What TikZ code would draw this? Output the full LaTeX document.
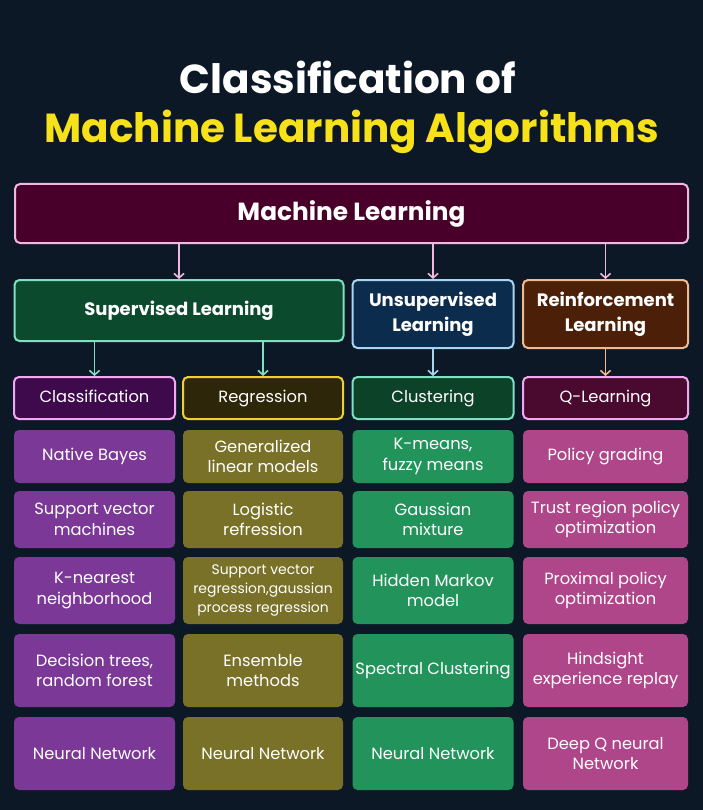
\documentclass[tikz,border=0pt]{standalone}
\usepackage{fontspec}
\setmainfont{Poppins}
\usetikzlibrary{arrows.meta}
\definecolor{bg}{HTML}{0D1826}
\definecolor{ttlyellow}{HTML}{F7E21A}
\definecolor{mlfill}{HTML}{48002A}
\definecolor{pinkline}{HTML}{F0B8E0}
\definecolor{supfill}{HTML}{0B4A2C}
\definecolor{mint}{HTML}{80E0C4}
\definecolor{unsfill}{HTML}{0B2C4C}
\definecolor{lblue}{HTML}{A8D6F0}
\definecolor{reifill}{HTML}{4C2008}
\definecolor{peach}{HTML}{F0BA90}
\definecolor{clsfill}{HTML}{3E0A4C}
\definecolor{clsline}{HTML}{F0A8F0}
\definecolor{regfill}{HTML}{2E2608}
\definecolor{yline}{HTML}{F0D030}
\definecolor{clufill}{HTML}{0B4228}
\definecolor{qfill}{HTML}{4A0A30}
\definecolor{cA}{HTML}{7B3896}
\definecolor{cB}{HTML}{7A7128}
\definecolor{cC}{HTML}{23935C}
\definecolor{cD}{HTML}{B0468A}
\tikzset{
  hdr/.style={draw, line width=2pt, rounded corners=5pt, inner sep=0pt, text=white, align=center,
    font=\bfseries\fontsize{18}{25}\selectfont},
  sub/.style={draw, line width=2pt, rounded corners=5pt, inner sep=0pt, text=white, align=center,
    minimum height=42pt, text height=12pt, text depth=4pt, font=\fontsize{16.3}{19}\selectfont},
  cell/.style={rounded corners=5pt, inner sep=0pt, text=white, align=center,
    font=\fontsize{16.3}{20.5}\selectfont},
  arr/.style={line width=1.6pt, -{Straight Barb[length=4.5pt,width=10pt]}},
}
\begin{document}
\begin{tikzpicture}[x=1pt,y=-1pt]
\fill[bg] (0,0) rectangle (703,810);
\useasboundingbox (0,0) rectangle (703,810);

\node[anchor=base, text=white, font=\bfseries\fontsize{40.5}{46}\selectfont] (t1) at (348,94) {Classification of};
\node[anchor=base, text=ttlyellow, font=\bfseries\fontsize{40.5}{46}\selectfont] (t2) at (352,143) {Machine Learning Algorithms};

\node[hdr, fill=mlfill, draw=pinkline, minimum width=673pt, minimum height=59pt,
  font=\bfseries\fontsize{24.8}{28}\selectfont] (ml) at (351.5,213.5) {Machine Learning};

\node[hdr, fill=supfill, draw=mint, minimum width=329pt, minimum height=61pt] (sup) at (179,310.5) {Supervised Learning};
\node[hdr, fill=unsfill, draw=lblue, minimum width=161pt, minimum height=68pt] (uns) at (433,314) {Unsupervised\\Learning};
\node[hdr, fill=reifill, draw=peach, minimum width=165pt, minimum height=68pt] (rei) at (605.5,314) {Reinforcement\\Learning};

\node[sub, fill=clsfill, draw=clsline, minimum width=161pt] (cls) at (94.5,398) {Classification};
\node[sub, fill=regfill, draw=yline, minimum width=160pt] (reg) at (263,398) {Regression};
\node[sub, fill=clufill, draw=mint, minimum width=161pt] (clu) at (433,398) {Clustering};
\node[sub, fill=qfill, draw=clsline, minimum width=165pt] (ql) at (605.5,398) {Q-Learning};

\draw[arr, pinkline] (sup.north |- ml.south) -- (sup.north);
\draw[arr, pinkline] (uns.north |- ml.south) -- (uns.north);
\draw[arr, pinkline] (rei.north |- ml.south) -- (rei.north);
\draw[arr, mint] (cls.north |- sup.south) -- (cls.north);
\draw[arr, mint] (reg.north |- sup.south) -- (reg.north);
\draw[arr, lblue] (uns.south) -- (clu.north);
\draw[arr, peach] (rei.south) -- (ql.north);

% column 1
\node[cell, fill=cA, minimum width=161pt, minimum height=53pt] (a1) at (94.5,456.5) {Native Bayes};
\node[cell, fill=cA, minimum width=161pt, minimum height=57pt] (a2) at (94.5,519.5) {Support vector\\machines};
\node[cell, fill=cA, minimum width=161pt, minimum height=67pt] (a3) at (94.5,590.5) {K-nearest\\neighborhood};
\node[cell, fill=cA, minimum width=161pt, minimum height=73pt] (a4) at (94.5,670.5) {Decision trees,\\random forest};
\node[cell, fill=cA, minimum width=161pt, minimum height=73pt] (a5) at (94.5,753.5) {Neural Network};
% column 2
\node[cell, fill=cB, minimum width=160pt, minimum height=53pt] (b1) at (263,456.5) {Generalized\\linear models};
\node[cell, fill=cB, minimum width=160pt, minimum height=57pt] (b2) at (263,519.5) {Logistic\\refression};
\node[cell, fill=cB, minimum width=160pt, minimum height=67pt, font=\fontsize{13.9}{19}\selectfont] (b3) at (263,590.5) {Support vector\\regression,gaussian\\process regression};
\node[cell, fill=cB, minimum width=160pt, minimum height=73pt] (b4) at (263,670.5) {Ensemble\\methods};
\node[cell, fill=cB, minimum width=160pt, minimum height=73pt] (b5) at (263,753.5) {Neural Network};
% column 3
\node[cell, fill=cC, minimum width=161pt, minimum height=53pt] (c1) at (433,456.5) {K-means,\\fuzzy means};
\node[cell, fill=cC, minimum width=161pt, minimum height=57pt] (c2) at (433,519.5) {Gaussian\\mixture};
\node[cell, fill=cC, minimum width=161pt, minimum height=67pt] (c3) at (433,590.5) {Hidden Markov\\model};
\node[cell, fill=cC, minimum width=161pt, minimum height=73pt] (c4) at (433,670.5) {Spectral Clustering};
\node[cell, fill=cC, minimum width=161pt, minimum height=73pt] (c5) at (433,753.5) {Neural Network};
% column 4
\node[cell, fill=cD, minimum width=165pt, minimum height=53pt] (d1) at (605.5,456.5) {Policy grading};
\node[cell, fill=cD, minimum width=165pt, minimum height=57pt] (d2) at (605.5,519.5) {Trust region policy\\optimization};
\node[cell, fill=cD, minimum width=165pt, minimum height=67pt] (d3) at (605.5,590.5) {Proximal policy\\optimization};
\node[cell, fill=cD, minimum width=165pt, minimum height=73pt] (d4) at (605.5,670.5) {Hindsight\\experience replay};
\node[cell, fill=cD, minimum width=165pt, minimum height=73pt] (d5) at (605.5,753.5) {Deep Q neural\\Network};
\end{tikzpicture}
\end{document}
